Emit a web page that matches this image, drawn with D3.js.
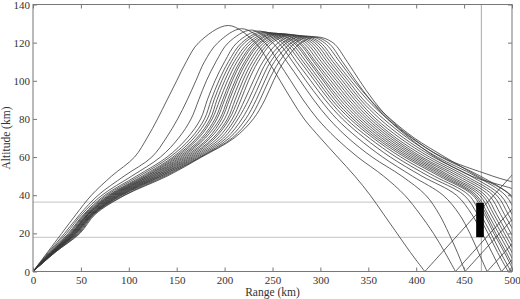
<!DOCTYPE html>
<html lang="en">
<head>
  <meta charset="UTF-8">
  <title>Ray paths</title>
  <script src="https://cdn.jsdelivr.net/npm/d3@7"></script>
  <style>
    body { margin: 0; background: #fff; }
    text { font-family: "Liberation Serif", "Times New Roman", serif; fill: #333; }
  </style>
</head>
<body>
  <div id="chart"></div>
  <script>
    // axis ticks
    const xTicks = [0, 50, 100, 150, 200, 250, 300, 350, 400, 450, 500];
    const yTicks = [0, 20, 40, 60, 80, 100, 120, 140];

    // altitude levels (km) at which the ray ranges were read
    const altLevels = [0, 10, 20, 30, 40, 50, 60, 70, 80, 90, 100, 110, 120];

    // range (km) where each ray climbs through 10, 20 ... 120 km
    const ascentRange = [
      [15, 30, 45, 61, 82, 106, 119, 130, 140, 150, 160, 173],
      [16, 33, 49, 68, 95, 124, 139, 151, 161, 170, 179, 193],
      [17, 35, 51, 72, 103, 133, 152, 165, 173, 181, 191, 204],
      [18, 37, 53, 75, 108, 140, 161, 175, 182, 190, 200, 213],
      [18, 38, 54, 77, 111, 143, 165, 179, 186, 194, 204, 218],
      [19, 39, 55, 79, 114, 146, 168, 182, 189, 197, 207, 221],
      [19, 40, 56, 80, 116, 148, 171, 185, 192, 200, 210, 225],
      [19, 40, 57, 81, 118, 150, 173, 187, 195, 203, 213, 228],
      [20, 41, 57, 82, 119, 152, 176, 190, 198, 206, 216, 231],
      [20, 41, 58, 83, 121, 154, 178, 192, 200, 208, 218, 233],
      [20, 42, 58, 84, 122, 156, 180, 195, 203, 211, 221, 236],
      [20, 42, 59, 85, 124, 158, 183, 197, 205, 213, 223, 238],
      [21, 43, 60, 86, 125, 160, 185, 200, 208, 216, 226, 241],
      [21, 43, 60, 87, 127, 162, 188, 203, 211, 219, 229, 244],
      [21, 44, 61, 88, 128, 164, 190, 205, 214, 222, 232, 247],
      [21, 44, 61, 89, 130, 166, 193, 208, 217, 225, 235, 250],
      [22, 45, 62, 90, 131, 168, 196, 211, 221, 230, 240, 256],
      [22, 45, 62, 91, 133, 170, 199, 214, 225, 234, 244, 261],
      [22, 46, 63, 92, 134, 172, 202, 218, 229, 238, 248, 265],
      [22, 47, 63, 93, 136, 174, 205, 222, 233, 242, 252, 270],
      [23, 48, 64, 95, 138, 175, 208, 226, 237, 246, 257, 274],
      [23, 49, 65, 96, 140, 176, 210, 230, 242, 251, 262, 280]
    ];

    // turning point of each ray [range, altitude]
    const apexPoint = [
      [204, 129], [218, 127.3], [228, 126.6], [236, 126.1], [240, 125.8],
      [243, 125.5], [246, 125.3], [249, 125.1], [252, 125], [254, 124.9],
      [257, 124.8], [259, 124.7], [262, 124.6], [265, 124.5], [268, 124.3],
      [271, 124.1], [275, 123.9], [279, 123.7], [283, 123.5], [287, 123.4],
      [291, 123.2], [296, 123]
    ];

    // range (km) where each ray comes down through 120, 110 ... 0 km
    const descentRange = [
      [232, 246, 258, 270, 283, 300, 318, 336, 352, 366, 380, 394, 409],
      [242, 256, 269, 282, 297, 316, 339, 366, 388, 404, 418, 430, 441],
      [250, 265, 279, 293, 309, 329, 354, 385, 410, 424, 434, 443, 451],
      [256, 271, 285, 300, 317, 339, 365, 396, 428, 445, 456, 465, 474],
      [260, 275, 290, 305, 323, 346, 373, 406, 442, 458, 469, 479, 489],
      [263, 279, 294, 309, 327, 351, 379, 413, 450, 464, 475, 485, 496],
      [266, 282, 297, 312, 331, 355, 384, 419, 455, 467, 478, 488, 499],
      [269, 285, 300, 315, 334, 358, 388, 424, 459, 471, 481, 492, 502],
      [272, 288, 303, 318, 337, 361, 391, 427, 461, 473, 483, 494, 504],
      [274, 290, 305, 321, 340, 364, 394, 430, 463, 475, 486, 497, 507],
      [277, 293, 308, 324, 343, 367, 397, 433, 466, 478, 489, 500, 510],
      [279, 295, 311, 327, 346, 370, 400, 436, 469, 481, 492, 503, 513],
      [282, 298, 314, 330, 349, 373, 403, 440, 472, 484, 495, 506, 516],
      [285, 301, 317, 333, 352, 376, 406, 444, 476, 488, 499, 510, 520],
      [288, 304, 320, 336, 355, 379, 410, 448, 480, 492, 503, 514, 524],
      [291, 307, 323, 339, 358, 383, 414, 452, 484, 496, 507, 518, 528],
      [294, 310, 326, 342, 362, 387, 418, 457, 488, 500, 511, 522, 532],
      [297, 313, 329, 345, 366, 391, 422, 462, 493, 505, 516, 527, 537],
      [300, 316, 332, 349, 370, 395, 426, 467, 498, 510, 521, 532, 542],
      [304, 320, 335, 352, 373, 398, 430, 464, 499, 512, 524, 536, 548],
      [308, 323, 337, 352, 370, 393, 420, 458, 515, 530, 542, 554, 566],
      [313, 328, 341, 355, 372, 396, 427, 480, 540, 555, 567, 579, 591]
    ];

    // after ground reflection: range at 10, 20 ... km
    const bounceRange = [
      [427, 445, 463, 481, 499, 517],
      [459, 477, 495, 513],
      [469, 487, 505],
      [492, 510],
      [507],
      [514],
      [517]
    ];

    // reference altitudes, station range and the observed band
    const guideAlts = [36.4, 17.9];
    const stationRange = 468;
    const bandRange = [462.6, 470.6];
    const bandAlt = [18, 36];

    const w = 520, h = 299;
    const padL = 33, padR = 512, padT = 4.5, padB = 271.5;

    const x = d3.scaleLinear().domain([0, 500]).range([padL, padR]);
    const y = d3.scaleLinear().domain([0, 140]).range([padB, padT]);

    const svg = d3.select("#chart").append("svg")
      .attr("width", w)
      .attr("height", h);

    svg.append("clipPath").attr("id", "plot")
      .append("rect")
      .attr("x", padL).attr("y", padT)
      .attr("width", padR - padL).attr("height", padB - padT);

    const plot = svg.append("g").attr("clip-path", "url(#plot)");

    // horizontal guides
    plot.selectAll(".guide")
      .data(guideAlts)
      .enter()
      .append("line")
      .attr("x1", padL).attr("x2", padR)
      .attr("y1", d => y(d)).attr("y2", d => y(d))
      .attr("stroke", "#cfcfcf")
      .attr("stroke-width", 1.4);

    plot.append("line")
      .attr("x1", x(stationRange)).attr("x2", x(stationRange))
      .attr("y1", padT).attr("y2", padB)
      .attr("stroke", "#a8a8a8")
      .attr("stroke-width", 1);

    // build ray paths
    const downLevels = altLevels.slice().reverse();
    const rays = ascentRange.map((up, i) => {
      const pts = [[0, 0]];
      up.forEach((r, k) => pts.push([r, altLevels[k + 1]]));
      pts.push(apexPoint[i]);
      descentRange[i].forEach((r, k) => pts.push([r, downLevels[k]]));
      return pts;
    });
    const bounces = bounceRange.map((b, i) => {
      const g = descentRange[i][descentRange[i].length - 1];
      const pts = [[g, 0]];
      b.forEach((r, k) => pts.push([r, altLevels[k + 1]]));
      return pts;
    });

    const line = d3.line()
      .x(d => x(d[0]))
      .y(d => y(d[1]))
      .curve(d3.curveCatmullRom.alpha(0.5));

    plot.selectAll(".ray")
      .data(rays.concat(bounces))
      .enter()
      .append("path")
      .attr("d", line)
      .attr("fill", "none")
      .attr("stroke", "#383838")
      .attr("stroke-width", 0.8);

    // observed band
    svg.append("rect")
      .attr("x", x(bandRange[0]))
      .attr("y", y(bandAlt[1]))
      .attr("width", x(bandRange[1]) - x(bandRange[0]))
      .attr("height", y(bandAlt[0]) - y(bandAlt[1]))
      .attr("fill", "#000");

    // axes with inward ticks
    const xAxis = d3.axisBottom(x).tickValues(xTicks).tickSizeInner(-4).tickSizeOuter(0).tickPadding(5);
    const yAxis = d3.axisLeft(y).tickValues(yTicks).tickSizeInner(-4).tickSizeOuter(0).tickPadding(3);

    const gx = svg.append("g").attr("transform", "translate(0," + padB + ")").call(xAxis);
    const gy = svg.append("g").attr("transform", "translate(" + padL + ",0)").call(yAxis);
    const gx2 = svg.append("g").attr("transform", "translate(0," + padT + ")")
      .call(d3.axisTop(x).tickValues(xTicks).tickSizeInner(-4).tickSizeOuter(0).tickFormat(""));
    const gy2 = svg.append("g").attr("transform", "translate(" + padR + ",0)")
      .call(d3.axisRight(y).tickValues(yTicks).tickSizeInner(-4).tickSizeOuter(0).tickFormat(""));

    [gx, gy, gx2, gy2].forEach(g => {
      g.select(".domain").remove();
      g.selectAll(".tick line").attr("stroke", "#777");
      g.selectAll(".tick text")
        .attr("font-size", 11)
        .style("font-family", "'Liberation Serif', 'Times New Roman', serif")
        .attr("fill", "#333");
    });

    svg.append("rect")
      .attr("x", padL).attr("y", padT)
      .attr("width", padR - padL).attr("height", padB - padT)
      .attr("fill", "none")
      .attr("stroke", "#777")
      .attr("stroke-width", 1);

    svg.append("text")
      .attr("x", (padL + padR) / 2)
      .attr("y", 296)
      .attr("text-anchor", "middle")
      .attr("font-size", 11.5)
      .text("Range (km)");

    svg.append("text")
      .attr("transform", "translate(10," + ((padT + padB) / 2) + ") rotate(-90)")
      .attr("text-anchor", "middle")
      .attr("font-size", 11.5)
      .text("Altitude (km)");
  </script>
</body>
</html>
